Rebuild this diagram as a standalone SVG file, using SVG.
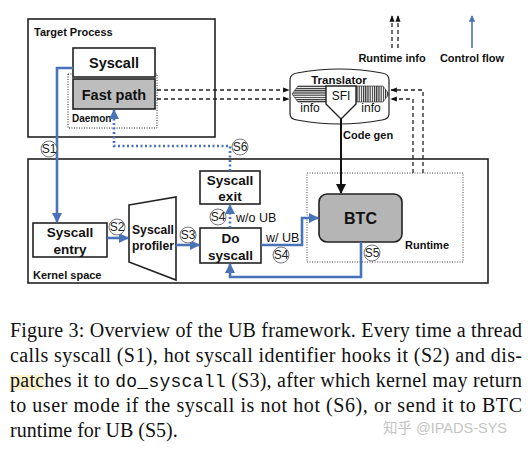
<svg xmlns="http://www.w3.org/2000/svg" width="532" height="450" viewBox="0 0 532 450">
<style>
.b{font-family:"Liberation Sans",Arial,sans-serif;font-weight:bold;fill:#111}
.n{font-family:"Liberation Sans",Arial,sans-serif;fill:#111}
.box{fill:#fff;stroke:#222;stroke-width:1.6}
.flow{fill:none;stroke:#4a72b8;stroke-width:2.6}
.dotflow{fill:none;stroke:#4a72b8;stroke-width:2.6;stroke-dasharray:2 2.5}
.dash{fill:none;stroke:#222;stroke-width:1.3;stroke-dasharray:4 3}
.circ{fill:#fff;stroke:#555;stroke-width:0.8}
.cap{font-family:"Liberation Serif","Times New Roman",serif;font-size:20px;fill:#111}
</style>
<defs>
<marker id="ab" viewBox="0 0 10 10" refX="9" refY="5" markerWidth="4" markerHeight="4" orient="auto"><path d="M0,0 L10,5 L0,10 Z" fill="#4a72b8"/></marker>
<marker id="ak" viewBox="0 0 10 10" refX="9" refY="5" markerWidth="5" markerHeight="5" orient="auto"><path d="M0,0 L10,5 L0,10 Z" fill="#111"/></marker>
<marker id="ad" viewBox="0 0 10 10" refX="9" refY="5" markerWidth="5" markerHeight="5" orient="auto"><path d="M0,1 L10,5 L0,9 Z" fill="#111"/></marker>
<pattern id="hz" width="4" height="2.2" patternUnits="userSpaceOnUse"><rect width="4" height="2.2" fill="#fff"/><line x1="0" y1="0.6" x2="4" y2="0.6" stroke="#222" stroke-width="1.1"/></pattern>
<pattern id="vt" width="2.2" height="4" patternUnits="userSpaceOnUse"><rect width="2.2" height="4" fill="#fff"/><line x1="0.6" y1="0" x2="0.6" y2="4" stroke="#222" stroke-width="1.1"/></pattern>
</defs>

<!-- Target process -->
<g id="target-process">
<rect x="28" y="19" width="187" height="118" class="box"/>
<text x="34" y="36" class="b" font-size="11">Target Process</text>
</g>
<g id="daemon">
<rect x="68" y="74" width="89" height="54" fill="none" stroke="#222" stroke-width="1" stroke-dasharray="1 1.5"/>
<text x="72" y="122" class="b" font-size="10">Daemon</text>
</g>
<g id="syscall">
<rect x="73" y="48" width="82" height="29" class="box"/>
<text x="114" y="68" class="b" font-size="14.5" text-anchor="middle">Syscall</text>
</g>
<g id="fast-path">
<rect x="73" y="79" width="82" height="30" fill="#bdbdbd" stroke="#222" stroke-width="1.6"/>
<text x="114" y="99.5" class="b" font-size="14.5" text-anchor="middle">Fast path</text>
</g>

<!-- Legend -->
<g id="legend">
<line x1="392" y1="48" x2="392" y2="16" class="dash" marker-end="url(#ad)"/>
<line x1="398" y1="48" x2="398" y2="16" class="dash" marker-end="url(#ad)"/>
<text x="392" y="62" class="b" font-size="11" text-anchor="middle">Runtime info</text>
<line x1="472" y1="48" x2="472" y2="16" stroke="#4a72b8" stroke-width="1.6" marker-end="url(#ab)"/>
<text x="472" y="62" class="b" font-size="11" text-anchor="middle">Control flow</text>
</g>

<!-- Translator -->
<g id="translator">
<path d="M290,80 Q290,74 297,73 Q339,65 382,73 Q389,74 389,80 L389,114 Q389,119 382,120 Q339,128 297,120 Q290,119 290,114 Z" fill="#fff" stroke="#222" stroke-width="1.2"/>
<text x="339" y="84" class="b" font-size="11.5" text-anchor="middle">Translator</text>
<polygon points="292,94 298,86 327,86 327,102 298,102" fill="url(#hz)" stroke="#222" stroke-width="0.6"/>
<polygon points="356,86 383,86 389,94 383,102 356,102" fill="url(#vt)" stroke="#222" stroke-width="0.6"/>
<polygon points="326,86 356,86 356,104 341,119 326,104" fill="#fff" stroke="#222" stroke-width="1.4"/>
<text x="341" y="100" class="n" font-size="12" text-anchor="middle">SFI</text>
<text x="310" y="112" class="n" font-size="12" text-anchor="middle">info</text>
<text x="371" y="112" class="n" font-size="12" text-anchor="middle">info</text>
</g>

<!-- Kernel space -->
<g id="kernel-space">
<rect x="28" y="159" width="460" height="124" class="box"/>
<text x="33" y="279" class="b" font-size="11">Kernel space</text>
</g>
<g id="runtime">
<rect x="307" y="173" width="156" height="89" fill="none" stroke="#444" stroke-width="1" stroke-dasharray="1 1.5"/>
<text x="405" y="249" class="b" font-size="11">Runtime</text>
</g>
<g id="syscall-entry">
<rect x="33" y="223" width="74" height="34" class="box"/>
<text x="70" y="237" class="b" font-size="13.5" text-anchor="middle">Syscall</text>
<text x="70" y="254" class="b" font-size="13.5" text-anchor="middle">entry</text>
</g>
<g id="syscall-profiler">
<polygon points="129,205 176,197 176,280 129,262" class="box"/>
<text x="153" y="234" class="b" font-size="12.2" text-anchor="middle">Syscall</text>
<text x="153" y="250" class="b" font-size="12.2" text-anchor="middle">profiler</text>
</g>
<g id="do-syscall">
<rect x="200" y="228" width="61" height="35" class="box"/>
<text x="230.5" y="243" class="b" font-size="13.5" text-anchor="middle">Do</text>
<text x="230.5" y="260" class="b" font-size="13.5" text-anchor="middle">syscall</text>
</g>
<g id="syscall-exit">
<rect x="200" y="171" width="60" height="33" class="box"/>
<text x="230" y="185" class="b" font-size="13.5" text-anchor="middle">Syscall</text>
<text x="230" y="201" class="b" font-size="13.5" text-anchor="middle">exit</text>
</g>
<g id="btc">
<rect x="319" y="194" width="83" height="48" rx="8" fill="#b5b5b5" stroke="#222" stroke-width="1.6"/>
<text x="360.5" y="224" class="b" font-size="16" text-anchor="middle">BTC</text>
</g>

<!-- Connectors -->
<g id="connectors">
<line x1="157" y1="90" x2="289" y2="90" class="dash" marker-end="url(#ad)"/>
<line x1="157" y1="99" x2="289" y2="99" class="dash" marker-end="url(#ad)"/>
<polyline points="423,173 423,90 391,90" class="dash" marker-end="url(#ad)"/>
<polyline points="413,173 413,99 391,99" class="dash" marker-end="url(#ad)"/>
<line x1="341" y1="119" x2="341" y2="193" stroke="#111" stroke-width="2" marker-end="url(#ak)"/>
<text x="343" y="139" class="b" font-size="11">Code gen</text>

<polyline points="73,68 57,68 57,222" class="flow" marker-end="url(#ab)"/>
<line x1="107" y1="238" x2="128" y2="238" class="flow" marker-end="url(#ab)"/>
<line x1="176" y1="245" x2="199" y2="245" class="flow" marker-end="url(#ab)"/>
<line x1="230" y1="228" x2="230" y2="205" class="dotflow" marker-end="url(#ab)"/>
<polyline points="230,171 230,146 114,146 114,110" class="dotflow" marker-end="url(#ab)"/>
<polyline points="261,245 302,245 302,218 318,218" class="flow" marker-end="url(#ab)"/>
<polyline points="361,242 361,277 230,277 230,264" class="flow" marker-end="url(#ab)"/>

<g font-family="Liberation Sans,Arial,sans-serif" font-size="12" fill="#222" text-anchor="middle">
<circle cx="49" cy="149" r="8" class="circ"/><text x="49" y="153.3">S1</text>
<circle cx="117" cy="227" r="8" class="circ"/><text x="117" y="231.3">S2</text>
<circle cx="188" cy="235" r="8" class="circ"/><text x="188" y="239.3">S3</text>
<circle cx="218" cy="217" r="8" class="circ"/><text x="218" y="221.3">S4</text>
<circle cx="281" cy="255" r="8" class="circ"/><text x="281" y="259.3">S4</text>
<circle cx="372" cy="253" r="8" class="circ"/><text x="372" y="257.3">S5</text>
<circle cx="240" cy="147" r="8" class="circ"/><text x="240" y="151.3">S6</text>
</g>
<text x="236" y="221.5" class="n" font-size="12.5">w/o UB</text>
<text x="266" y="241.5" class="n" font-size="12.5">w/ UB</text>
</g>

<!-- Caption -->
<rect x="10" y="375" width="33" height="15" fill="#fbf3cc"/>
<text x="10" y="337" class="cap" textLength="512" lengthAdjust="spacing">Figure 3: Overview of the UB framework. Every time a thread</text>
<text x="10" y="362" class="cap" textLength="512" lengthAdjust="spacing">calls syscall (S1), hot syscall identifier hooks it (S2) and dis-</text>
<text x="10" y="387" class="cap" textLength="512" lengthAdjust="spacing">patches it to <tspan font-family="Liberation Mono,Courier New,monospace" font-size="18">do_syscall</tspan> (S3), after which kernel may return</text>
<text x="10" y="412" class="cap" textLength="512" lengthAdjust="spacing">to user mode if the syscall is not hot (S6), or send it to BTC</text>
<text x="10" y="437" class="cap">runtime for UB (S5).</text>
<text x="383" y="433" font-family="Liberation Sans,Noto Sans CJK SC,sans-serif" font-size="14.5" fill="#c4c4c4">知乎 @IPADS-SYS</text>
</svg>
